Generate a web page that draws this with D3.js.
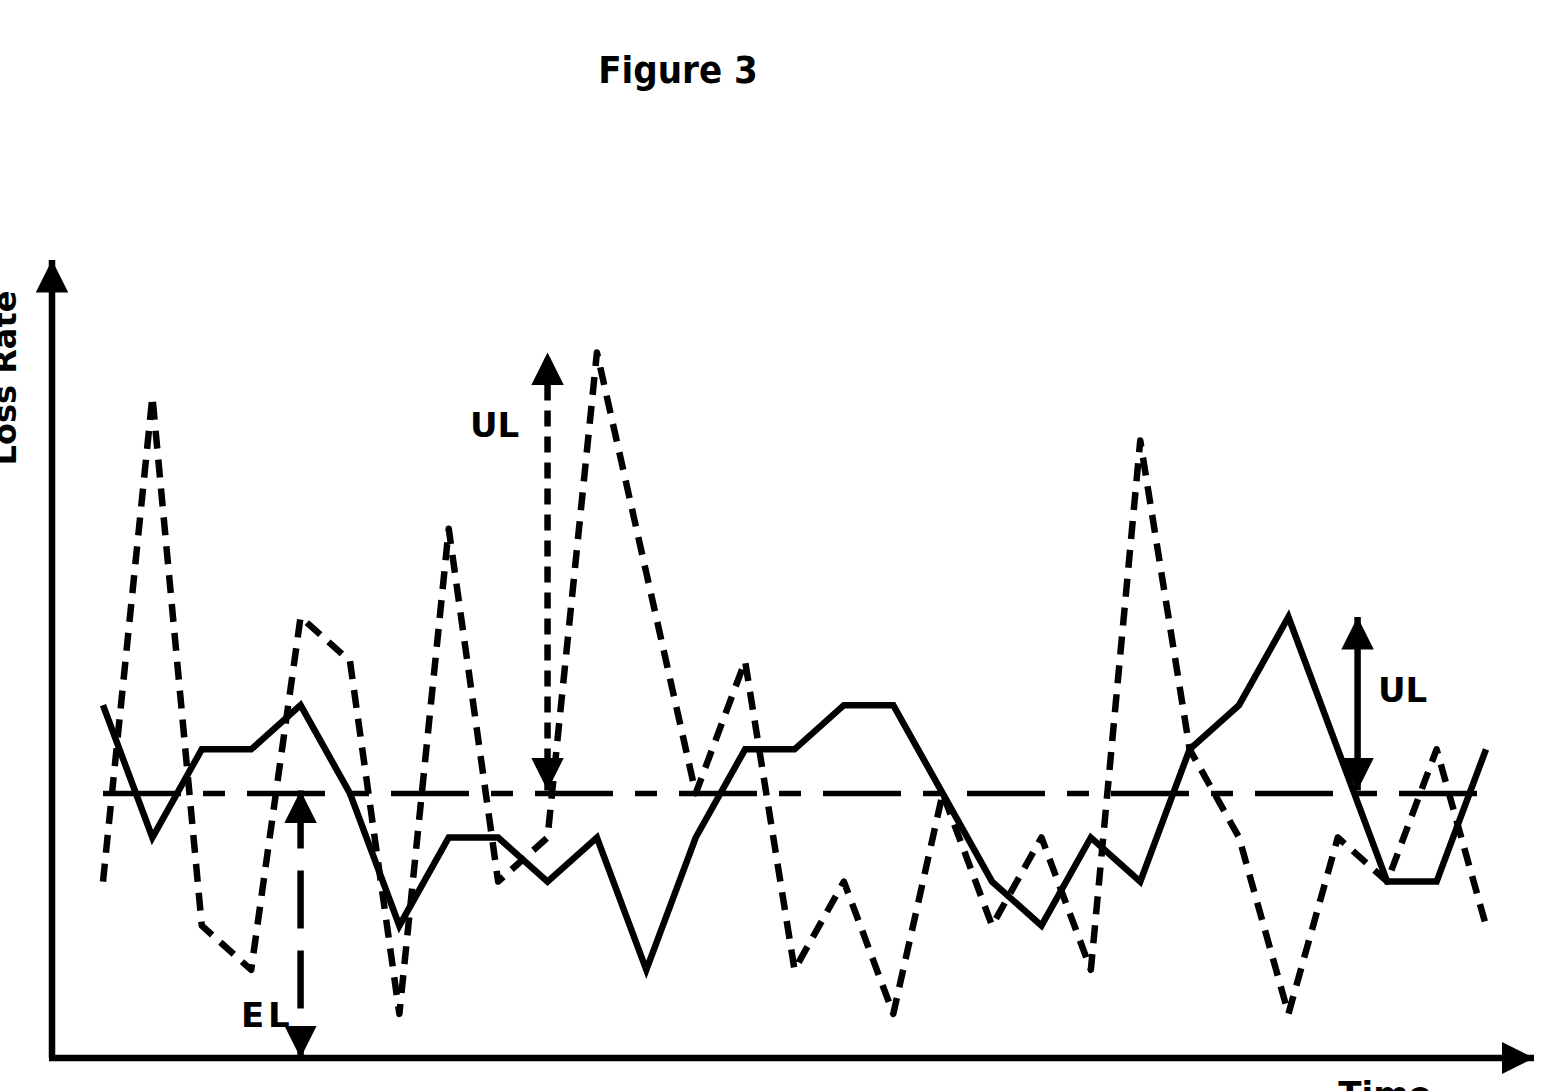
<!DOCTYPE html>
<html>
<head>
    <title>Figure 3</title>
    <script src="https://d3js.org/d3.v7.min.js"></script>
    <style>body{margin:0;background:#fff;}</style>
</head>
<body>
<script>
    var w = 1548;
    var h = 1091;
    // expected loss rate index 0..28, values in grid units
    var steps = d3.range(29);
    var solidSeries  = [8,5,7,7,8,6,3,5,5,4,5,2,5,7,7,8,8,6,4,3,5,4,7,8,10,7,4,4,7];
    var dashedSeries = [4,15,3,2,10,9,1,12,4,5,16,11,6,9,2,4,1,6,3,5,2,14,7,5,1,5,4,7,3];
    var meanLevel = 6;
    // arrows: [x index, from, to, label, style]
    var arrows = [
        {x: 9,    y0: 6, y1: 16, label: "UL", style: "dashed"},
        {x: 4,    y0: 6, y1: 0,  label: "EL", style: "longdash"},
        {x: 25.4, y0: 6, y1: 10, label: "UL", style: "solid"}
    ];

    var xScale = d3.scaleLinear().domain([0, 28]).range([103, 1486]);
    var yScale = d3.scaleLinear().domain([0, 10]).range([1058, 617]);

    var svg = d3.select("body").append("svg")
                .attr("width", w).attr("height", h)
                .attr("font-family", "DejaVu Sans").attr("font-weight", "bold");

    var defs = svg.append("defs");
    defs.append("marker").attr("id", "head")
        .attr("viewBox", "0 0 10 10").attr("refX", 10).attr("refY", 5)
        .attr("markerWidth", 5).attr("markerHeight", 5)
        .attr("markerUnits", "strokeWidth").attr("orient", "auto-start-reverse")
        .append("path").attr("d", "M0,0L10,5L0,10Z").attr("fill", "#000");

    svg.append("text").text("Figure 3")
       .attr("x", 678).attr("y", 83).attr("text-anchor", "middle")
       .attr("font-family", "DejaVu Sans Condensed").attr("font-size", 38);

    // axes
    svg.append("line").attr("x1", 52).attr("y1", 1058).attr("x2", 52).attr("y2", 260)
       .attr("stroke", "#000").attr("stroke-width", 6.5).attr("marker-end", "url(#head)");
    svg.append("line").attr("x1", 49).attr("y1", 1058).attr("x2", 1534).attr("y2", 1058)
       .attr("stroke", "#000").attr("stroke-width", 6.5).attr("marker-end", "url(#head)");
    svg.append("text").text("Loss Rate")
       .attr("transform", "translate(16,378) rotate(-90)")
       .attr("text-anchor", "middle").attr("font-size", 32);
    svg.append("text").text("Time").attr("x", 1385).attr("y", 1106)
       .attr("text-anchor", "middle").attr("font-size", 34);

    // mean level
    svg.append("line")
       .attr("x1", xScale(0)).attr("x2", xScale(28) + 4)
       .attr("y1", yScale(meanLevel)).attr("y2", yScale(meanLevel))
       .attr("stroke", "#000").attr("stroke-width", 5.5)
       .attr("stroke-dasharray", "78,22,22,22");

    var line = d3.line().x(function(d, i){ return xScale(i); }).y(function(d){ return yScale(d); });

    svg.append("path").datum(dashedSeries).attr("d", line)
       .attr("fill", "none").attr("stroke", "#000").attr("stroke-width", 6.5)
       .attr("stroke-dasharray", "18,11").attr("stroke-linejoin", "round");
    svg.append("path").datum(solidSeries).attr("d", line)
       .attr("fill", "none").attr("stroke", "#000").attr("stroke-width", 6.5);

    var dashes = {solid: null, dashed: "16,10", longdash: "58,22"};
    arrows.forEach(function(a){
        svg.append("line")
           .attr("x1", xScale(a.x)).attr("x2", xScale(a.x))
           .attr("y1", yScale(a.y0) - 3).attr("y2", yScale(a.y1))
           .attr("stroke", "#000").attr("stroke-width", 6.5)
           .attr("stroke-dasharray", dashes[a.style])
           .attr("marker-start", "url(#head)").attr("marker-end", "url(#head)");
    });
    svg.append("text").text("UL").attr("x", 470).attr("y", 437).attr("font-size", 34);
    svg.append("text").text("E L").attr("x", 241).attr("y", 1027).attr("font-size", 34)
       .attr("letter-spacing", -4);
    svg.append("text").text("UL").attr("x", 1378).attr("y", 702).attr("font-size", 34);
</script>
</body>
</html>
